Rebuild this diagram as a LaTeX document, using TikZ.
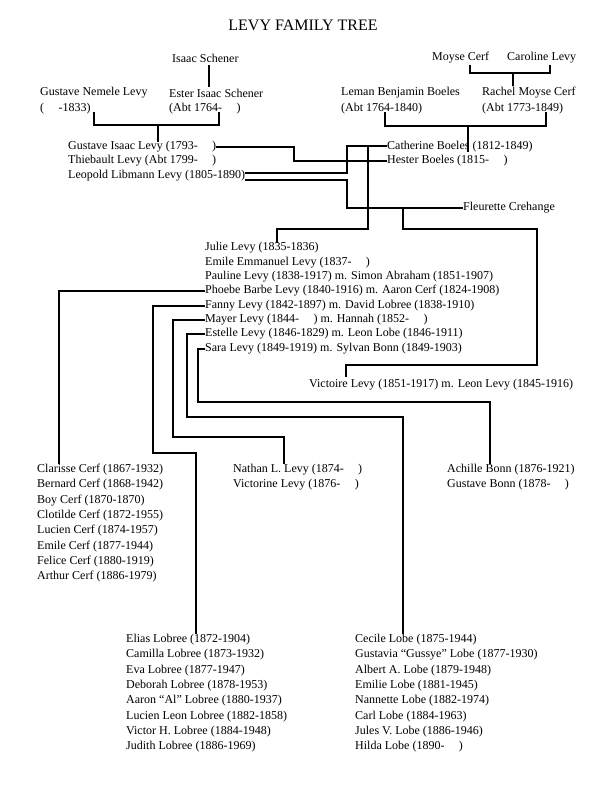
\documentclass[tikz,border=0pt]{standalone}
\usepackage{fontspec}
\setmainfont{Liberation Serif}
\begin{document}
\begin{tikzpicture}[x=1pt,y=-1pt,
  t/.style={anchor=west,inner sep=0pt,font=\fontsize{12}{15.3}\selectfont},
  ln/.style={line width=1.2pt}]
\useasboundingbox (0,0) rectangle (612,792);
\node[font=\fontsize{16}{18}\selectfont] (title) at (303,25) {LEVY FAMILY TREE};
% generation 1
\node[t] (is) at (172,58) {Isaac Schener};
\node[t] (mc) at (432,58) {Moyse Cerf};
\node[t] (cl) at (507,58) {Caroline Levy};
\node[t] (gnl) at (40,93) {Gustave Nemele Levy};
\node[t] (gnl2) at (40,109) {(\hspace{1.2em}-1833)};
\node[t] (eis) at (169,93) {Ester Isaac Schener};
\node[t] (eis2) at (169,109) {(Abt 1764-\hspace{1.2em})};
\node[t] (lbb) at (341,93) {Leman Benjamin Boeles};
\node[t] (lbb2) at (341,109) {(Abt 1764-1840)};
\node[t] (rmc) at (482,93) {Rachel Moyse Cerf};
\node[t] (rmc2) at (482,109) {(Abt 1773-1849)};
\draw[ln] (209,65) -- (209,87);
\draw[ln] (94,112) -- (94,125) -- (219,125) -- (219,112);
\draw[ln] (158,125) -- (158,142);
\draw[ln] (470,65) -- (470,73) -- (550,73) -- (550,65);
\draw[ln] (513,73) -- (513,86);
\draw[ln] (385,112) -- (385,126) -- (546,126) -- (546,112);
\draw[ln] (468,126) -- (468,152);
% generation 2
\node[t] (gil) at (68,147) {Gustave Isaac Levy (1793-\hspace{1.2em})};
\node[t] (tl) at (68,161) {Thiebault Levy (Abt 1799-\hspace{1.2em})};
\node[t] (lll) at (68,176) {Leopold Libmann Levy (1805-1890)};
\node[t] (cb) at (387,147) {Catherine Boeles (1812-1849)};
\node[t] (hb) at (387,161) {Hester Boeles (1815-\hspace{1.2em})};
\node[t] (fc) at (463,208) {Fleurette Crehange};
\draw[ln] (gil.east) -- (294,147) -- (294,161) -- (hb.west);
\draw[ln] (lll.east|-0,173) -- (347,173) -- (347,146) -- (cb.west|-0,146);
\draw[ln] (lll.east|-0,180) -- (347,180) -- (347,208) -- (fc.west);
\draw[ln] (368,146) -- (368,229) -- (277,229) -- (277,243);
\draw[ln] (403,208) -- (403,229) -- (537,229) -- (537,365) -- (346,365) -- (346,377);
% generation 3
\node[t] (jl) at (205,248) {Julie Levy (1835-1836)};
\node[t] (eel) at (205,263) {Emile Emmanuel Levy (1837-\hspace{1.2em})};
\node[t] (pl) at (205,277) {Pauline Levy (1838-1917) m. Simon Abraham (1851-1907)};
\node[t] (pbl) at (205,291) {Phoebe Barbe Levy (1840-1916) m. Aaron Cerf (1824-1908)};
\node[t] (fl) at (205,306) {Fanny Levy (1842-1897) m. David Lobree (1838-1910)};
\node[t] (ml) at (205,320) {Mayer Levy (1844-\hspace{1.2em}) m. Hannah (1852-\hspace{1.2em})};
\node[t] (el) at (205,334) {Estelle Levy (1846-1829) m. Leon Lobe (1846-1911)};
\node[t] (sl) at (205,349) {Sara Levy (1849-1919) m. Sylvan Bonn (1849-1903)};
\node[t] (vl) at (309,385) {Victoire Levy (1851-1917) m. Leon Levy (1845-1916)};
% generation 4
\node[t,align=left,anchor=north west] (cerf) at (37,464) {Clarisse Cerf (1867-1932)\\Bernard Cerf (1868-1942)\\Boy Cerf (1870-1870)\\Clotilde Cerf (1872-1955)\\Lucien Cerf (1874-1957)\\Emile Cerf (1877-1944)\\Felice Cerf (1880-1919)\\Arthur Cerf (1886-1979)};
\node[t,align=left,anchor=north west] (nl) at (233,464) {Nathan L. Levy (1874-\hspace{1.2em})\\Victorine Levy (1876-\hspace{1.2em})};
\node[t,align=left,anchor=north west] (bonn) at (447,464) {Achille Bonn (1876-1921)\\Gustave Bonn (1878-\hspace{1.2em})};
\node[t,align=left,anchor=north west] (lobree) at (126,634) {Elias Lobree (1872-1904)\\Camilla Lobree (1873-1932)\\Eva Lobree (1877-1947)\\Deborah Lobree (1878-1953)\\Aaron ``Al'' Lobree (1880-1937)\\Lucien Leon Lobree (1882-1858)\\Victor H. Lobree (1884-1948)\\Judith Lobree (1886-1969)};
\node[t,align=left,anchor=north west] (lobe) at (355,634) {Cecile Lobe (1875-1944)\\Gustavia ``Gussye'' Lobe (1877-1930)\\Albert A. Lobe (1879-1948)\\Emilie Lobe (1881-1945)\\Nannette Lobe (1882-1974)\\Carl Lobe (1884-1963)\\Jules V. Lobe (1886-1946)\\Hilda Lobe (1890-\hspace{1.2em})};
\draw[ln] (pbl.west) -- (59,291) -- (59,464);
\draw[ln] (fl.west) -- (153,306) -- (153,453) -- (196,453) -- (196,634);
\draw[ln] (ml.west) -- (173,320) -- (173,437) -- (284,437) -- (284,464);
\draw[ln] (el.west) -- (187,334) -- (187,417) -- (403,417) -- (403,634);
\draw[ln] (sl.west) -- (198,349) -- (198,402) -- (490,402) -- (490,464);
\end{tikzpicture}
\end{document}
